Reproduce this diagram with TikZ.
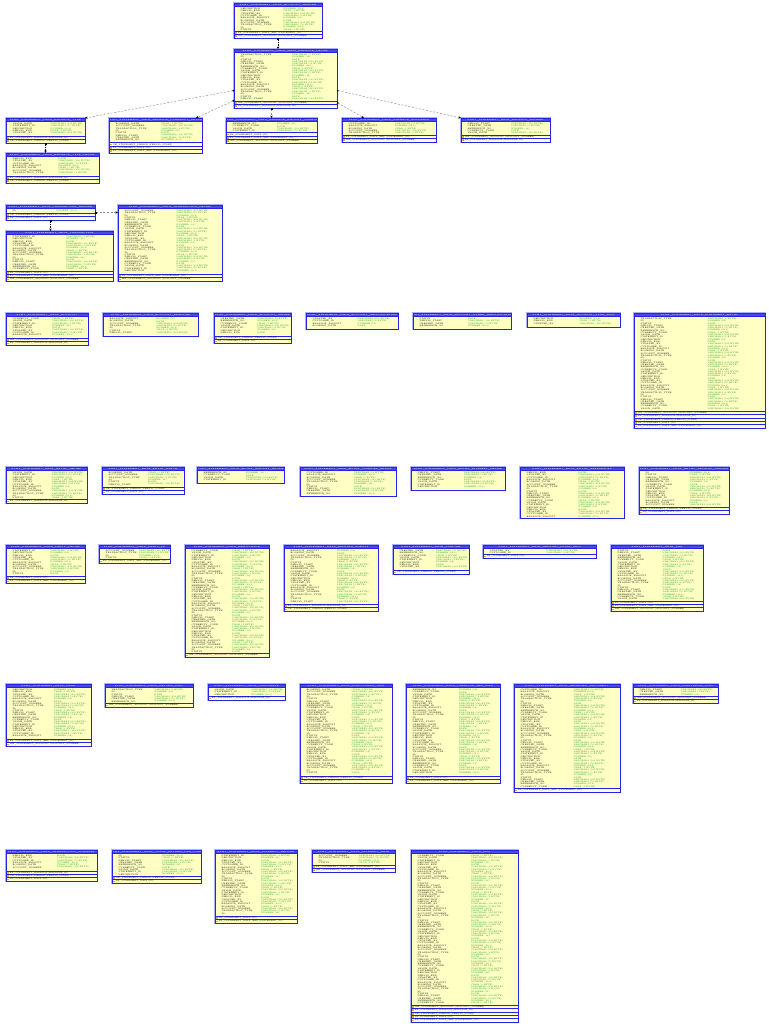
\documentclass[tikz,border=0pt]{standalone}
\usetikzlibrary{arrows.meta,calc}
\definecolor{erblue}{RGB}{35,35,235}
\definecolor{erhalo}{RGB}{175,175,255}
\definecolor{eryel}{RGB}{255,255,196}
\definecolor{ergreen}{RGB}{20,150,20}
\definecolor{ertitle}{RGB}{75,75,225}
\definecolor{ericon}{RGB}{215,175,40}
\tikzset{
  x=1pt,y=-1pt,
  erbox/.style={fill=eryel, inner sep=0pt, outer sep=0pt},
  ername/.style={anchor=west, inner sep=0pt, text=black, font=\fontsize{2.1}{2.1}\selectfont},
  ertypestyle/.style={anchor=west, inner sep=0pt, text=ergreen, font=\fontsize{2.1}{2.1}\selectfont},
  ertitletext/.style={inner sep=0pt, text=eryel, font=\bfseries\fontsize{2.1}{2.1}\selectfont},
  erfoottext/.style={anchor=west, inner sep=0pt, text=black, font=\fontsize{2}{2}\selectfont},
  idrel/.style={black, line width=0.9pt, dash pattern=on 1.6pt off 1pt},
  nonid/.style={black!45, line width=0.45pt, dash pattern=on 2pt off 1.6pt},
  relend/.style={{Square[length=1.4pt,width=1.4pt,black]}-{Stealth[length=2.6pt,width=2.4pt,black]}}
}
\newcommand\ercolname[1]{\ifcase#1 ID\or STATEMENT\_ID\or ACCOUNT\_NUMBER\or CURRENCY\_CODE\or BALANCE\_AMOUNT\or CREATED\_DATE\or UPDATED\_BY\or STATUS\or DESCRIPTION\or TRANSACTION\_TYPE\or VALUE\_DATE\or BOOKING\_DATE\or REFERENCE\_NO\or CUSTOMER\_ID\or PERIOD\_START\or PERIOD\_END\else X\fi}
\newcommand\ercoltype[1]{\ifcase#1 NUMBER (18)\or VARCHAR2 (50 BYTE)\or VARCHAR2 (200 BYTE)\or DATE\or NUMBER (20,4)\or VARCHAR2 (3 BYTE)\or VARCHAR2 (100 BYTE)\or CHAR (1 BYTE)\else X\fi}
\newcommand\erfootname[1]{\ifcase#1 PK\_STATEMENT\_DATA (ID)\or FK\_STATEMENT\_DATA\_REF (STATEMENT\_ID)\or IDX\_STATEMENT\_ACCOUNT (ACCOUNT\_NUMBER)\or FK\_STATEMENT\_BALANCE (BALANCE\_ID)\or UK\_STATEMENT\_PERIOD (PERIOD\_START)\else X\fi}
% #1 name, #2 x1, #3 y1, #4 x2, #5 y2, #6 footer rows, #7 title, #8 seed
\newcommand\ertable[8]{%
  \pgfmathsetmacro\erw{#4-(#2)}%
  \pgfmathsetmacro\erh{#5-(#3)}%
  \pgfmathsetmacro\erfy{#5-#6*3.4}%
  \pgfmathtruncatemacro\ern{max(1,floor((\erfy-(#3)-5.0)/2.3))}%
  \draw[erhalo, line width=2.2pt] (#2,#3) rectangle (#4,#5);
  \node[erbox, minimum width=\erw pt, minimum height=\erh pt, anchor=north west] (#1) at (#2,#3) {};
  \fill[ertitle] (#2,#3) rectangle (#4,#3+3.6);
  \node[ertitletext] at ({(#2+#4)/2},#3+1.85) {#7};
  \draw[erblue, line width=0.45pt] (#2,#3+3.6) -- (#4,#3+3.6);
  \foreach \i in {1,...,\ern} {
    \pgfmathsetmacro\ery{#3+4.8+(\i-0.5)*2.3}
    \pgfmathtruncatemacro\erk{mod(\i*7+#8,16)}
    \pgfmathtruncatemacro\ert{mod(\i*3+#8,8)}
    \node[ername] at (#2+6.5,\ery) {\ercolname{\erk}};
    \node[ertypestyle] at ({#2+0.56*\erw},\ery) {\ercoltype{\ert}};
  }
  \ifnum#6>0
  \foreach \f in {1,...,#6} {
    \pgfmathsetmacro\erfa{\erfy+(\f-1)*3.4}
    \pgfmathtruncatemacro\erq{mod(\f-1+#8,5)}
    \draw[erblue, line width=0.6pt] (#2,\erfa) -- (#4,\erfa);
    \fill[ericon] (#2+0.9,\erfa+0.9) rectangle ++(1.8,1.8);
    \node[erfoottext] at (#2+3.6,\erfa+1.8) {\erfootname{\erq}};
  }
  \fi
  \draw[erblue, line width=0.8pt] (#2,#3) rectangle (#4,#5);
}
\begin{document}
\begin{tikzpicture}
\useasboundingbox (0,0) rectangle (768,1024);
\fill[white] (0,0) rectangle (768,1024);
% row 0
\ertable{t1}{234}{3}{322}{38}{2}{STMT\_STATEMENT\_DATA\_ACCOUNT\_HEADER}{1}
\ertable{t2}{234}{49}{337}{108}{2}{STMT\_STATEMENT\_DATA\_MAIN\_BALANCE\_DETAIL}{2}
% row 1
\ertable{t3}{6}{118}{85}{143}{2}{STMT\_STATEMENT\_DATA\_BALANCE\_TYPE}{3}
\ertable{t4}{109}{118}{202}{153}{3}{STMT\_STATEMENT\_DATA\_BALANCE\_CURRENCY\_DETAIL}{4}
\ertable{t5}{226}{118}{317}{143}{3}{STMT\_STATEMENT\_DATA\_BALANCE\_AMOUNT\_CHANGE}{5}
\ertable{t6}{342}{118}{436}{142}{2}{STMT\_STATEMENT\_DATA\_BALANCE\_AVAILABLE}{6}
\ertable{t7}{461}{118}{550}{142}{2}{STMT\_STATEMENT\_DATA\_BALANCE\_BOOKED}{7}
\ertable{t8}{6}{153}{99}{183}{2}{STMT\_STATEMENT\_DATA\_BALANCE\_TYPE\_DETAIL}{8}
% row 2
\ertable{t9}{6}{205}{95}{220}{2}{STMT\_STATEMENT\_DATA\_TRANSACTION\_HEADER}{9}
\ertable{t10}{6}{231}{113}{281}{3}{STMT\_STATEMENT\_DATA\_TRANSACTION}{10}
\ertable{t11}{118}{205}{222}{281}{2}{STMT\_STATEMENT\_DATA\_TRANSACTION\_DETAIL}{11}
% row 3
\ertable{t12}{6}{313}{88}{345}{2}{STMT\_STATEMENT\_DATA\_ACCOUNT}{12}
\ertable{t13}{103}{313}{198}{336}{0}{STMT\_STATEMENT\_DATA\_ACCOUNT\_SERVICER}{13}
\ertable{t14}{214}{313}{291}{343}{2}{STMT\_STATEMENT\_DATA\_ACCOUNT\_OWNER}{14}
\ertable{t15}{306}{313}{398}{329}{0}{STMT\_STATEMENT\_DATA\_ACCOUNT\_IDENTIFICATION}{15}
\ertable{t16}{413}{313}{511}{329}{0}{STMT\_STATEMENT\_DATA\_ACCOUNT\_OTHER\_IDENTIFICATION}{0}
\ertable{t17}{527}{313}{620}{327}{0}{STMT\_STATEMENT\_DATA\_ACCOUNT\_TYPE\_INFO}{1}
\ertable{t18}{634}{313}{765}{428}{5}{STMT\_STATEMENT\_DATA\_STATEMENT\_ENTRY}{2}
% row 4
\ertable{t19}{6}{467}{87}{503}{1}{STMT\_STATEMENT\_DATA\_ENTRY\_DETAIL}{3}
\ertable{t20}{102}{467}{184}{494}{2}{STMT\_STATEMENT\_DATA\_ENTRY\_BATCH}{4}
\ertable{t21}{197}{467}{284}{483}{0}{STMT\_STATEMENT\_DATA\_ENTRY\_AMOUNT\_DETAIL}{5}
\ertable{t22}{300}{467}{396}{496}{0}{STMT\_STATEMENT\_DATA\_ENTRY\_CHARGES\_DETAIL}{6}
\ertable{t23}{411}{467}{505}{490}{0}{STMT\_STATEMENT\_DATA\_ENTRY\_INTEREST\_DETAIL}{7}
\ertable{t24}{520}{467}{624}{518}{0}{STMT\_STATEMENT\_DATA\_ENTRY\_REFERENCES}{8}
\ertable{t25}{639}{467}{729}{514}{2}{STMT\_STATEMENT\_DATA\_ENTRY\_RELATED\_PARTIES}{9}
% row 5
\ertable{t26}{6}{545}{85}{583}{2}{STMT\_STATEMENT\_DATA\_PARTY\_DETAIL}{10}
\ertable{t27}{99}{545}{170}{563}{1}{STMT\_STATEMENT\_DATA\_PARTY\_ID}{11}
\ertable{t28}{185}{545}{269}{657}{1}{STMT\_STATEMENT\_DATA\_REMITTANCE}{12}
\ertable{t29}{284}{545}{378}{611}{2}{STMT\_STATEMENT\_DATA\_RELATED\_AGENTS}{13}
\ertable{t30}{393}{545}{469}{574}{1}{STMT\_STATEMENT\_DATA\_PURPOSE}{14}
\ertable{t31}{483}{545}{596}{558}{1}{STMT\_STATEMENT\_DATA\_RELATED\_DATES\_INFO}{15}
\ertable{t32}{611}{545}{703}{611}{3}{STMT\_STATEMENT\_DATA\_TAX}{0}
% row 6
\ertable{t33}{6}{684}{91}{746}{2}{STMT\_STATEMENT\_DATA\_CARD}{1}
\ertable{t34}{105}{684}{193}{707}{1}{STMT\_STATEMENT\_DATA\_RETURN\_INFO}{2}
\ertable{t35}{208}{684}{285}{700}{1}{STMT\_STATEMENT\_DATA\_CORPORATE}{3}
\ertable{t36}{300}{684}{392}{783}{2}{STMT\_STATEMENT\_DATA\_STRUCTURED\_INFO}{4}
\ertable{t37}{406}{684}{500}{783}{2}{STMT\_STATEMENT\_DATA\_CREDITOR\_REF\_INFO}{5}
\ertable{t38}{514}{684}{620}{792}{1}{STMT\_STATEMENT\_DATA\_REFERRED\_DOCUMENT}{6}
\ertable{t39}{633}{684}{718}{703}{2}{STMT\_STATEMENT\_DATA\_ADDITIONAL\_INFO}{7}
% row 7
\ertable{t40}{6}{850}{97}{881}{3}{STMT\_STATEMENT\_DATA\_TRANSACTION\_SUMMARY}{8}
\ertable{t41}{112}{850}{201}{883}{2}{STMT\_STATEMENT\_DATA\_TOTAL\_ENTRIES\_PER\_CODE}{9}
\ertable{t42}{215}{850}{297}{923}{2}{STMT\_STATEMENT\_DATA\_INTEREST\_RECORD}{10}
\ertable{t43}{312}{850}{395}{872}{2}{STMT\_STATEMENT\_DATA\_INTEREST\_RATE}{11}
\ertable{t44}{411}{850}{518}{1022}{5}{STMT\_STATEMENT\_DATA\_LOG}{12}
% connectors
\draw[idrel, relend] (t1.south) -- (t1.south |- t2.north);
\draw[nonid, relend] ([yshift=-12pt]t2.west) -- (t3.north east);
\draw[nonid, relend] ([yshift=-22pt]t2.west) -- ([xshift=-6pt]t4.north east);
\draw[nonid, relend] (t5.north |- t2.south) -- (t5.north);
\draw[nonid, relend] ([yshift=-24pt]t2.east) -- ([xshift=-25pt]t6.north);
\draw[nonid, relend] ([yshift=-12pt]t2.east) -- (t7.north west);
\draw[idrel, relend] (t3.south) -- (t3.south |- t8.north);
\draw[idrel, relend] (t9.south) -- (t9.south |- t10.north);
\draw[nonid, relend] (t9.east) -- (t9.east -| t11.west);
\end{tikzpicture}
\end{document}
